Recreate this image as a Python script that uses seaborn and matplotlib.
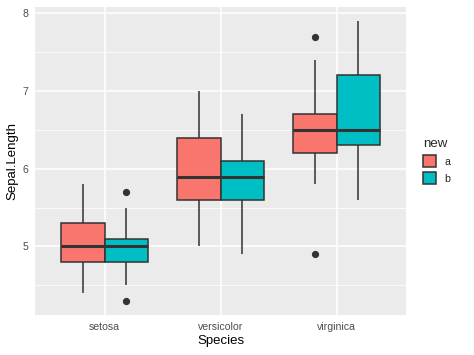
import pandas as pd
import matplotlib
matplotlib.use("Agg")
import matplotlib.pyplot as plt
import seaborn as sns

# valores (cuartiles, bigotes y atipicos por grupo)
species = ["setosa", "versicolor", "virginica"]
new_levels = ["a", "b"]
setosa_a = [4.4, 4.8, 5.0, 5.3, 5.8]
setosa_b = [4.3, 4.5, 4.8, 4.9, 5.0, 5.0, 5.1, 5.5, 5.7]
versicolor_a = [5.0, 5.6, 5.9, 6.4, 7.0]
versicolor_b = [4.9, 5.6, 5.9, 6.1, 6.7]
virginica_a = [4.9, 5.8, 6.2, 6.3, 6.5, 6.6, 6.7, 7.4, 7.7]
virginica_b = [5.6, 6.3, 6.5, 7.2, 7.9]

groups = {
    ("setosa", "a"): setosa_a, ("setosa", "b"): setosa_b,
    ("versicolor", "a"): versicolor_a, ("versicolor", "b"): versicolor_b,
    ("virginica", "a"): virginica_a, ("virginica", "b"): virginica_b,
}
rows = []
for (sp, nw), vals in groups.items():
    for v in vals:
        rows.append({"Species": sp, "new": nw, "Sepal.Length": v})
df = pd.DataFrame(rows)

sns.set_style("darkgrid")
plt.rcParams["font.family"] = ["Liberation Sans", "DejaVu Sans"]

fig = plt.figure(figsize=(4.74, 3.55), dpi=100)
ax = fig.add_axes([0.074, 0.113, 0.783, 0.867])
ax.set_facecolor("#EBEBEB")

edge = "#333333"
sns.boxplot(data=df, x="Species", y="Sepal.Length", hue="new",
            order=species, hue_order=new_levels,
            palette=["#F8766D", "#00BFC4"], width=0.75, gap=0,
            linecolor=edge, linewidth=1.1, saturation=1,
            showcaps=False,
            medianprops={"linewidth": 2.2, "color": edge},
            flierprops={"marker": "o", "markersize": 4.2,
                        "markerfacecolor": edge, "markeredgecolor": edge},
            ax=ax)

ax.set_xlim(-0.6, 2.6)
ax.set_ylim(4.12, 8.08)
ax.set_yticks([5, 6, 7, 8])
ax.set_yticks([4.5, 5.5, 6.5, 7.5], minor=True)
ax.grid(True, which="major", color="white", linewidth=1.1)
ax.grid(True, which="minor", axis="y", color="white", linewidth=0.55)
ax.set_axisbelow(True)
for s in ax.spines.values():
    s.set_visible(False)
ax.tick_params(which="major", length=3, width=0.9, color=edge,
               labelsize=7.6, labelcolor="#4D4D4D", pad=2)
ax.tick_params(which="minor", length=0)
ax.set_xlabel("Species", fontsize=9.5, color="black", labelpad=2)
ax.set_ylabel("Sepal.Length", fontsize=9.5, color="black", labelpad=3)

sns.move_legend(ax, "center left", bbox_to_anchor=(1.02, 0.5), frameon=False,
                title="new", fontsize=7.6, title_fontsize=9.5,
                handlelength=1.2, handleheight=1.3, handletextpad=0.8,
                labelspacing=0.5)
leg = ax.get_legend()
leg._legend_box.align = "left"

plt.savefig("out.png", dpi=100)
